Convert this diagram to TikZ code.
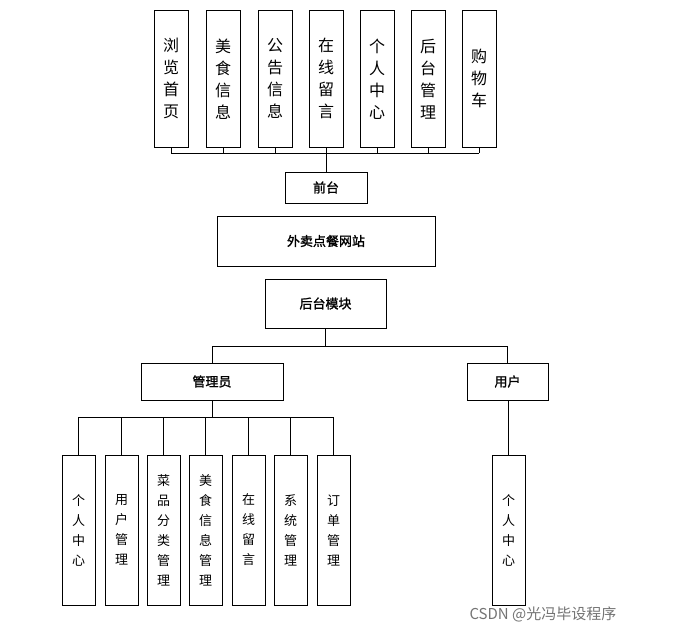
\documentclass[tikz,border=0pt]{standalone}
\usepackage{fontspec}
\newfontfamily\cjk{Noto Sans CJK SC}
\newfontfamily\cjkb[FakeBold=1.5]{Noto Sans CJK SC}
\begin{document}
\begin{tikzpicture}[x=1pt,y=-1pt,
  bx/.style={draw,thick,inner sep=0pt,font=\cjkb\fontsize{13}{15}\selectfont},
  vt/.style={draw,thick,inner sep=0pt,align=center,font=\cjk\fontsize{16}{22}\selectfont},
  vb/.style={draw,thick,inner sep=0pt,align=center,font=\cjk\fontsize{13}{20}\selectfont},
  ln/.style={thick}]
\useasboundingbox (0,0) rectangle (674,635);
% top boxes
\foreach \n/\x/\t in {t1/171/浏\\览\\首\\页, t2/223/美\\食\\信\\息, t3/275/公\\告\\信\\息, t4/326/在\\线\\留\\言, t5/377/个\\人\\中\\心, t6/428/后\\台\\管\\理, t7/479/购\\物\\车}
  \node[vt,minimum width=34pt,minimum height=137pt,anchor=north] (\n) at (\x,10) {\t};
\foreach \n/\x in {t1/171,t2/223,t3/275,t4/326,t5/377,t6/428,t7/479}
  \coordinate (b\n) at (\x,153);
\node[bx,minimum width=82pt,minimum height=31pt] (qt) at (326,187.5) {前台};
\node[bx,minimum width=218pt,minimum height=50pt] (site) at (326,241) {外卖点餐网站};
\node[bx,minimum width=121pt,minimum height=49pt] (ht) at (325.5,303.5) {后台模块};
\node[bx,minimum width=142pt,minimum height=37pt] (adm) at (212,381.5) {管理员};
\node[bx,minimum width=81pt,minimum height=37pt] (usr) at (507.5,381.5) {用户};
\foreach \n/\x/\t in {a1/78.5/个\\人\\中\\心, a2/121.5/用\\户\\管\\理, a3/163.5/菜\\品\\分\\类\\管\\理, a4/205.5/美\\食\\信\\息\\管\\理, a5/248.5/在\\线\\留\\言, a6/290.5/系\\统\\管\\理, a7/333.5/订\\单\\管\\理}
  \node[vb,minimum width=33pt,minimum height=150pt] (\n) at (\x,530) {\t};
\node[vb,minimum width=33pt,minimum height=150pt] (u1) at (508.5,530) {个\\人\\中\\心};
% connectors
\foreach \n in {t1,t2,t3,t4,t5,t6,t7} \draw[ln] (\n.south) -- (b\n);
\draw[ln] (bt1) -- (bt7);
\draw[ln] (bt4) -- (qt.north);
\coordinate (h1) at (325.5,346);
\draw[ln] (ht.south) -- (h1);
\coordinate (hl) at (212,346);
\coordinate (hr) at (507.5,346);
\draw[ln] (hl) -- (hr);
\draw[ln] (hl) -- (adm.north);
\draw[ln] (hr) -- (usr.north);
\coordinate (al) at (78.5,417);
\coordinate (ar) at (333.5,417);
\draw[ln] (al) -- (ar);
\draw[ln] (adm.south) -- (212,417);
\foreach \n in {a1,a2,a3,a4,a5,a6,a7} \draw[ln] (\n.north) -- (\n.north |- al);
\draw[ln] (usr.south -| u1.north) -- (u1.north);
\node[anchor=west,text=gray!90!black,font=\cjk\fontsize{15}{17}\selectfont] (wm) at (466,614) {CSDN @光冯毕设程序};
\end{tikzpicture}
\end{document}
